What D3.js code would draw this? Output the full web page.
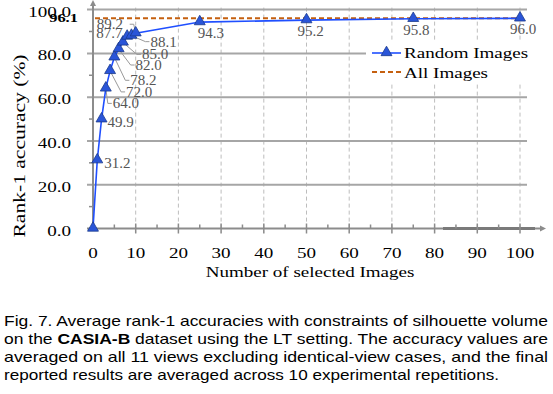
<!DOCTYPE html>
<html>
<head>
<meta charset="utf-8">
<script src="https://cdn.jsdelivr.net/npm/d3@7"></script>
<style>
  body { margin: 0; background: #fff; }
  svg { display: block; }
</style>
</head>
<body>
<div id="chart"></div>
<script>
// data
var numImages = [0, 1, 2, 3, 4, 5, 6, 7, 8, 9, 10, 25, 50, 75, 100];
var randomAcc = [0.0, 31.2, 49.9, 64.0, 72.0, 78.2, 82.0, 85.0, 87.7, 88.1, 89.2, 94.3, 95.2, 95.8, 96.0];
var allImagesAcc = 96.1;
var xTicks = [0, 10, 20, 30, 40, 50, 60, 70, 80, 90, 100];
var yTicks = [0, 20, 40, 60, 80, 100];
var seriesNames = ["Random Images", "All Images"];
var captionLines = [
  ["Fig. 7. Average rank-1 accuracies with constraints of silhouette volume"],
  ["on the ", "CASIA-B", " dataset using the LT setting. The accuracy values are"],
  ["averaged on all 11 views excluding identical-view cases, and the final"],
  ["reported results are averaged across 10 experimental repetitions."]
];

// label placement (dx, dy from the marker), label index matches randomAcc
var labelPos = [
  null, [7, 8], [6, 8], [7, 20], [16, 26], [16, 28], [17, 21], [19, 17],
  [-31, 1], [19, 11], [-39, -4], [-2, 16], [-9, 16], [-10, 16], [-10, 16]
];
// labels that get a gray leader line
var leaderIdx = [3, 4, 5, 6, 7, 8, 9, 10];

var width = 553, height = 394;
var SX = 1.27; // the figure's serif text is stretched sideways
var serif = "'Liberation Serif', 'Times New Roman', serif";

var svg = d3.select("#chart").append("svg")
  .attr("width", width)
  .attr("height", height);

var x = d3.scaleLinear().domain([0, 100]).range([93, 520]);
var y = d3.scaleLinear().domain([0, 100]).range([228.5, 9.6]);

var grid = svg.append("g");

// vertical dashed grid
grid.selectAll(".vg")
  .data(xTicks.filter(d => d > 0))
  .enter().append("line")
  .attr("x1", d => x(d)).attr("x2", d => x(d))
  .attr("y1", y(100) - 2).attr("y2", y(0) + 4)
  .attr("stroke", "#bdbdbd")
  .attr("stroke-width", 1)
  .attr("stroke-dasharray", "4,3");

// horizontal grid
grid.selectAll(".hg")
  .data(yTicks.filter(d => d > 0))
  .enter().append("line")
  .attr("x1", x(0) - 6)
  .attr("x2", 527)
  .attr("y1", d => y(d)).attr("y2", d => y(d))
  .attr("stroke", "#a6a6a6")
  .attr("stroke-width", 2);

// legend background hides grid behind it
svg.append("rect")
  .attr("x", 366).attr("y", 41)
  .attr("width", 170).attr("height", 42)
  .attr("fill", "#fff");

// axes
var axisColor = "#8c8c8c";
svg.append("line")
  .attr("x1", x(0) - 6).attr("x2", 540)
  .attr("y1", y(0)).attr("y2", y(0))
  .attr("stroke", axisColor).attr("stroke-width", 2);
svg.append("line")
  .attr("x1", 443).attr("x2", 535)
  .attr("y1", y(0)).attr("y2", y(0))
  .attr("stroke", "#7a7a7a").attr("stroke-width", 3);
svg.append("path")
  .attr("d", "M540," + (y(0) - 3) + "L546," + y(0) + "L540," + (y(0) + 3) + "Z")
  .attr("fill", axisColor);
svg.append("line")
  .attr("x1", x(0)).attr("x2", x(0))
  .attr("y1", y(0)).attr("y2", 5)
  .attr("stroke", axisColor).attr("stroke-width", 2);
svg.append("path")
  .attr("d", "M" + (x(0) - 3) + ",6L" + x(0) + ",0L" + (x(0) + 3) + ",6Z")
  .attr("fill", axisColor);

// minor ticks
svg.selectAll(".xminor")
  .data(d3.range(5, 100, 10))
  .enter().append("line")
  .attr("x1", d => x(d)).attr("x2", d => x(d))
  .attr("y1", y(0) - 4).attr("y2", y(0))
  .attr("stroke", axisColor).attr("stroke-width", 1.5);
svg.selectAll(".xmajor")
  .data(xTicks.filter(d => d > 0))
  .enter().append("line")
  .attr("x1", d => x(d)).attr("x2", d => x(d))
  .attr("y1", y(0) - 5).attr("y2", y(0) + 5)
  .attr("stroke", axisColor).attr("stroke-width", 1.5);
svg.selectAll(".yminor")
  .data(d3.range(10, 100, 20))
  .enter().append("line")
  .attr("x1", x(0) - 4).attr("x2", x(0))
  .attr("y1", d => y(d)).attr("y2", d => y(d))
  .attr("stroke", axisColor).attr("stroke-width", 1.5);

// tick labels
svg.selectAll(".xlab")
  .data(xTicks)
  .enter().append("text")
  .attr("transform", d => "translate(" + x(d) + ",258) scale(" + SX + ",1)")
  .attr("text-anchor", "middle")
  .style("font-family", serif)
  .style("font-size", "15px")
  .text(d => d);

svg.selectAll(".ylab")
  .data(yTicks)
  .enter().append("text")
  .attr("transform", d => "translate(71," + (y(d) + 7) + ") scale(" + SX + ",1)")
  .attr("text-anchor", "end")
  .style("font-family", serif)
  .style("font-size", "15px")
  .text(d3.format(".1f"));

// axis titles
svg.append("text")
  .attr("transform", "translate(310,277) scale(" + SX + ",1)")
  .attr("text-anchor", "middle")
  .style("font-family", serif)
  .style("font-size", "15px")
  .text("Number of selected Images");

svg.append("text")
  .attr("transform", "translate(25,146) rotate(-90)")
  .attr("text-anchor", "middle")
  .attr("textLength", 183)
  .attr("lengthAdjust", "spacingAndGlyphs")
  .style("font-family", serif)
  .style("font-size", "16px")
  .text("Rank-1 accuracy (%)");

// All Images reference line
var orange = "#c5600f";
svg.append("line")
  .attr("x1", x(0) + 2).attr("x2", x(100) + 2)
  .attr("y1", y(allImagesAcc)).attr("y2", y(allImagesAcc))
  .attr("stroke", orange).attr("stroke-width", 2)
  .attr("stroke-dasharray", "5,3");

svg.append("text")
  .attr("transform", "translate(78," + (y(allImagesAcc) + 4) + ") scale(" + SX + ",1)")
  .attr("text-anchor", "end")
  .style("font-family", serif)
  .style("font-size", "13px")
  .style("font-weight", "bold")
  .text(allImagesAcc.toFixed(1));

// Random Images series
var pts = numImages.map((d, i) => ({ n: d, v: randomAcc[i], i: i }));
var blue = "#1f4fff";
var line = d3.line().x(d => x(d.n)).y(d => y(d.v));

// leader lines
var labelColor = "#555";
svg.selectAll(".leader")
  .data(pts.filter(d => leaderIdx.indexOf(d.i) >= 0))
  .enter().append("path")
  .attr("fill", "none")
  .attr("stroke", "#9a9a9a")
  .attr("stroke-width", 1)
  .attr("d", function(d) {
    var mx = x(d.n), my = y(d.v);
    var p = labelPos[d.i];
    var tx = mx + p[0], ty = my + p[1] - 5;
    if (p[0] < 0) {
      var ex = tx + 33;
      return "M" + ex + "," + ty + "L" + (ex + 4) + "," + ty + "L" + mx + "," + my;
    }
    return "M" + mx + "," + my + "L" + (tx - 5) + "," + ty + "L" + (tx - 1) + "," + ty;
  });

svg.append("path")
  .datum(pts)
  .attr("fill", "none")
  .attr("stroke", blue)
  .attr("stroke-width", 1.6)
  .attr("d", line);

var tri = d3.symbol().type(d3.symbolTriangle).size(52);
svg.selectAll(".mark")
  .data(pts)
  .enter().append("path")
  .attr("transform", d => "translate(" + x(d.n) + "," + (y(d.v) - 0.5) + ")")
  .attr("d", tri)
  .attr("fill", "#2a55d8")
  .attr("stroke", "#1a3a8a")
  .attr("stroke-width", 0.8);

svg.selectAll(".vlab")
  .data(pts.filter(d => labelPos[d.i]))
  .enter().append("text")
  .attr("x", d => x(d.n) + labelPos[d.i][0])
  .attr("y", d => y(d.v) + labelPos[d.i][1])
  .style("font-family", serif)
  .style("font-size", "15px")
  .attr("fill", labelColor)
  .text(d => d.v.toFixed(1));

// legend
var lg = svg.append("g");
lg.append("line")
  .attr("x1", 372).attr("x2", 401)
  .attr("y1", 53).attr("y2", 53)
  .attr("stroke", blue).attr("stroke-width", 1.6);
lg.append("path")
  .attr("transform", "translate(386.5,52.5)")
  .attr("d", tri)
  .attr("fill", "#2a55d8")
  .attr("stroke", "#1a3a8a")
  .attr("stroke-width", 0.8);
lg.append("line")
  .attr("x1", 372).attr("x2", 401)
  .attr("y1", 72).attr("y2", 72)
  .attr("stroke", orange).attr("stroke-width", 2)
  .attr("stroke-dasharray", "5,3");
lg.selectAll(".lt")
  .data(seriesNames)
  .enter().append("text")
  .attr("transform", (d, i) => "translate(404," + (58 + i * 20) + ") scale(" + SX + ",1)")
  .style("font-family", serif)
  .style("font-size", "15px")
  .text(d => d);

// caption
var capWidths = [544, 544, 544, 495];
var cap = svg.selectAll(".cap")
  .data(captionLines)
  .enter().append("text")
  .attr("x", 4)
  .attr("y", (d, i) => 326 + i * 18)
  .attr("textLength", (d, i) => capWidths[i])
  .attr("lengthAdjust", "spacingAndGlyphs")
  .style("font-family", "'Liberation Sans', Arial, sans-serif")
  .style("font-size", "15px");
cap.selectAll("tspan")
  .data(d => d)
  .enter().append("tspan")
  .style("font-weight", d => d === "CASIA-B" ? "bold" : "normal")
  .text(d => d);
</script>
</body>
</html>
